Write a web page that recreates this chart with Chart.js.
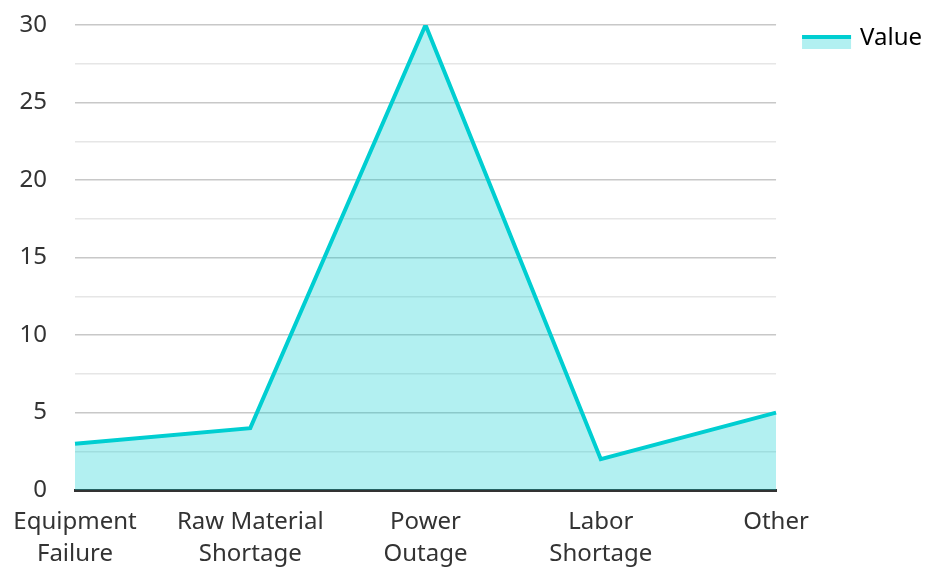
<!DOCTYPE html>
<html lang="en">
<head>
    <meta charset="UTF-8" />
    <title>Value</title>
    <script src="https://cdn.jsdelivr.net/npm/chart.js"></script>
    <style>
        html, body { margin: 0; padding: 0; background: #fff; }
        #wrap { width: 925px; height: 567px; }
    </style>
</head>
<body>
    <div id="wrap"><canvas id="chart"></canvas></div>
    <script>
        const categories = [['Equipment', 'Failure'], ['Raw Material', 'Shortage'], ['Power', 'Outage'], ['Labor', 'Shortage'], 'Other'];
        const values = [3, 4, 30, 2, 5];
        const seriesName = 'Value';

        const lineColor = '#00CED1';
        const fillColor = 'rgba(0, 206, 209, 0.3)';

        Chart.defaults.font.family = '"Noto Sans", "Open Sans", sans-serif';
        Chart.defaults.font.size = 24;
        Chart.defaults.font.lineHeight = 1.33;
        Chart.defaults.color = '#333';

        // legend swatch: filled box with a thick line along its top
        const legendSwatch = {
            id: 'legendSwatch',
            afterDraw(chart) {
                const legend = chart.legend;
                if (!legend || !legend.legendHitBoxes) return;
                const ctx = chart.ctx;
                legend.legendHitBoxes.forEach(box => {
                    const top = box.top + (box.height - 14) / 2 + 4;
                    ctx.save();
                    ctx.fillStyle = fillColor;
                    ctx.fillRect(box.left, top, 49, 14);
                    ctx.strokeStyle = lineColor;
                    ctx.lineWidth = 4;
                    ctx.beginPath();
                    ctx.moveTo(box.left, top + 2);
                    ctx.lineTo(box.left + 49, top + 2);
                    ctx.stroke();
                    ctx.restore();
                });
            }
        };

        new Chart(document.getElementById('chart').getContext('2d'), {
            type: 'line',
            data: {
                labels: categories,
                datasets: [{
                    label: seriesName,
                    data: values,
                    borderColor: lineColor,
                    backgroundColor: fillColor,
                    borderWidth: 4,
                    fill: 'origin',
                    tension: 0,
                    pointRadius: 0
                }]
            },
            options: {
                responsive: true,
                maintainAspectRatio: false,
                animation: false,
                layout: { padding: { top: 0, left: 0, right: -7, bottom: -11 } },
                plugins: {
                    legend: {
                        position: 'right',
                        align: 'start',
                        labels: {
                            boxWidth: 46,
                            boxHeight: 14,
                            padding: 26,
                            generateLabels: chart => [{
                                text: seriesName,
                                fillStyle: 'rgba(0,0,0,0)',
                                strokeStyle: 'rgba(0,0,0,0)',
                                lineWidth: 0,
                                datasetIndex: 0
                            }]
                        }
                    },
                    tooltip: { enabled: false }
                },
                scales: {
                    x: {
                        offset: false,
                        grid: { display: false },
                        border: { color: '#333', width: 3 },
                        ticks: { maxRotation: 0, autoSkip: false, padding: 8 },
                        afterFit: s => { s.paddingLeft = 75; s.paddingRight = 0; }
                    },
                    y: {
                        min: 0,
                        max: 30,
                        border: { display: false },
                        grid: {
                            color: ctx => (ctx.tick && ctx.tick.value % 5 === 0) ? '#c8c8c8' : '#e6e6e6',
                            lineWidth: 1.5,
                            drawTicks: false
                        },
                        ticks: {
                            stepSize: 2.5,
                            padding: 28,
                            callback: v => v % 5 === 0 ? v : ''
                        },
                        afterFit: s => { s.paddingTop = 25; s.width = 75; }
                    }
                }
            },
            plugins: [legendSwatch]
        });
    </script>
</body>
</html>
